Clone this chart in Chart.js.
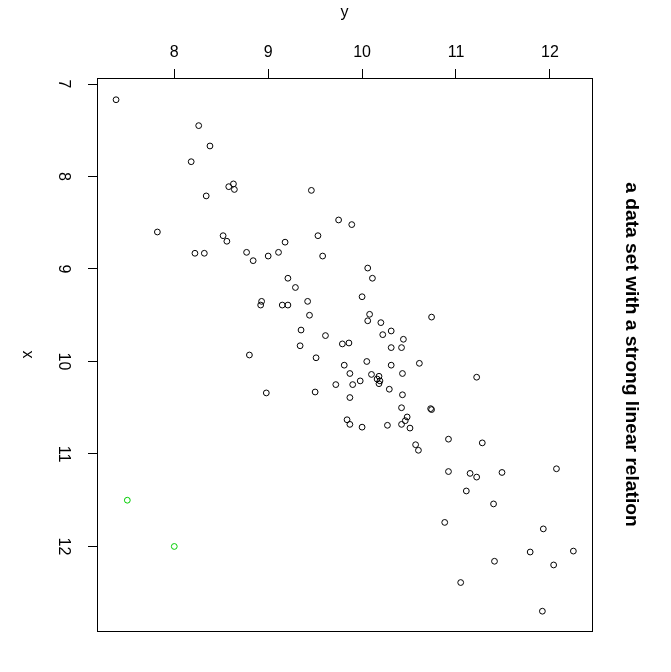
<!DOCTYPE html>
<html>
<head>
<meta charset="utf-8">
<script src="https://cdn.jsdelivr.net/npm/chart.js@4/dist/chart.umd.min.js"></script>
<style>
    html, body { margin: 0; padding: 0; background: #ffffff; }
    #wrap { width: 671px; height: 672px; }
</style>
</head>
<body>
<div id="wrap"><canvas id="scatterChart"></canvas></div>
<script>
// values of the variable "y" (drawn along the top axis)
const yValues = [
    7.38, 8.26, 8.38, 8.18, 8.58, 8.63, 8.64, 8.34, 9.46, 7.82,
    8.52, 8.56, 8.22, 8.32, 8.77, 8.84, 9.00, 9.11, 9.18, 9.21,
    9.53, 9.58, 9.75, 9.89, 10.06, 10.11, 9.29, 10.00, 8.93, 8.92,
    9.15, 9.21, 9.42, 9.44, 10.08, 10.06, 10.20, 10.74, 9.35, 10.22,
    10.31, 10.44, 9.61, 9.34, 9.79, 9.86, 10.31, 10.42, 8.80, 9.51,
    9.81, 10.05, 10.31, 10.61, 9.87, 10.10, 10.18, 10.43, 10.16, 10.19,
    10.18, 9.98, 9.90, 9.72, 10.29, 10.43, 8.98, 9.50, 9.87, 10.42,
    10.74, 10.73, 9.84, 9.87, 10.00, 10.27, 10.42, 10.48, 10.46, 10.51,
    10.57, 10.60, 10.92, 10.92, 11.28, 11.15, 11.22, 11.49, 12.07, 11.11,
    11.40, 10.88, 11.93, 11.79, 12.25, 11.41, 12.04, 11.05, 11.92, 11.22
];
// values of the variable "x" (drawn down the left axis)
const xValues = [
    7.17, 7.45, 7.67, 7.84, 8.11, 8.08, 8.14, 8.21, 8.15, 8.60,
    8.64, 8.70, 8.83, 8.83, 8.82, 8.91, 8.86, 8.82, 8.71, 9.10,
    8.64, 8.86, 8.47, 8.52, 8.99, 9.10, 9.20, 9.30, 9.35, 9.39,
    9.39, 9.39, 9.35, 9.50, 9.49, 9.56, 9.58, 9.52, 9.66, 9.71,
    9.67, 9.76, 9.72, 9.83, 9.81, 9.80, 9.85, 9.85, 9.93, 9.96,
    10.04, 10.00, 10.04, 10.02, 10.13, 10.14, 10.16, 10.13, 10.19, 10.21,
    10.24, 10.21, 10.25, 10.25, 10.30, 10.36, 10.34, 10.33, 10.39, 10.50,
    10.52, 10.51, 10.63, 10.68, 10.71, 10.69, 10.68, 10.60, 10.64, 10.72,
    10.90, 10.96, 10.84, 11.19, 10.88, 11.21, 11.25, 11.20, 11.16, 11.40,
    11.54, 11.74, 11.81, 12.06, 12.05, 12.16, 12.20, 12.39, 12.70, 10.17
];
// the two added points, drawn in green
const outlierY = [7.5, 8.0];
const outlierX = [11.5, 12.0];

const yTicks = [8, 9, 10, 11, 12];
const xTicks = [7, 8, 9, 10, 11, 12];

const FONT = "'Liberation Sans', Arial, sans-serif";

function toPoints(hor, ver) {
    return hor.map((v, i) => ({ x: v, y: ver[i] }));
}

// box round the plot region, like R's box()
const plotBox = {
    id: 'plotBox',
    afterDraw(chart) {
        const a = chart.chartArea;
        const ctx = chart.ctx;
        ctx.save();
        ctx.strokeStyle = '#000000';
        ctx.lineWidth = 1;
        ctx.strokeRect(Math.round(a.left) + 0.5, Math.round(a.top) + 0.5,
            Math.round(a.right - a.left), Math.round(a.bottom - a.top));
        ctx.restore();
    }
};

const ctx = document.getElementById('scatterChart');
new Chart(ctx, {
    type: 'scatter',
    data: {
        datasets: [{
            data: toPoints(yValues, xValues),
            pointStyle: 'circle',
            pointRadius: 2.9,
            pointBorderWidth: 1,
            pointBorderColor: '#000000',
            pointBackgroundColor: 'rgba(0,0,0,0)'
        }, {
            data: toPoints(outlierY, outlierX),
            pointStyle: 'circle',
            pointRadius: 2.9,
            pointBorderWidth: 1,
            pointBorderColor: '#00cd00',
            pointBackgroundColor: 'rgba(0,0,0,0)'
        }]
    },
    options: {
        responsive: true,
        maintainAspectRatio: false,
        animation: false,
        events: [],
        layout: { padding: { left: 0, top: 0, right: 0, bottom: 41 } },
        plugins: {
            legend: { display: false },
            tooltip: { enabled: false },
            title: {
                display: true,
                position: 'right',
                fullSize: false,
                text: 'a data set with a strong linear relation',
                color: '#000000',
                font: { family: FONT, size: 19.2, weight: 'bold', lineHeight: 1.2 },
                padding: { top: 28.5, bottom: 27.5 }
            }
        },
        scales: {
            x: {
                type: 'linear',
                position: 'top',
                min: 7.177,
                max: 12.448,
                afterBuildTicks: (scale) => { scale.ticks = yTicks.map(v => ({ value: v })); },
                afterFit: (scale) => { scale.height = 78; },
                grid: { drawOnChartArea: false, drawTicks: true, tickLength: 9, color: '#000000', lineWidth: 1 },
                border: { display: false },
                ticks: {
                    autoSkip: false,
                    maxRotation: 0,
                    padding: 6.7,
                    color: '#000000',
                    font: { family: FONT, size: 16 }
                },
                title: {
                    display: true,
                    text: 'y',
                    color: '#000000',
                    font: { family: FONT, size: 16 },
                    padding: { top: 3.2, bottom: 0 }
                }
            },
            y: {
                type: 'linear',
                position: 'left',
                reverse: true,
                min: 6.935,
                max: 12.914,
                afterBuildTicks: (scale) => { scale.ticks = xTicks.map(v => ({ value: v })); },
                afterFit: (scale) => { scale.width = 97; },
                grid: { drawOnChartArea: false, drawTicks: true, tickLength: 9, color: '#000000', lineWidth: 1 },
                border: { display: false },
                ticks: {
                    autoSkip: false,
                    minRotation: -90,
                    maxRotation: -90,
                    crossAlign: 'center',
                    padding: 15.3,
                    color: '#000000',
                    font: { family: FONT, size: 16 }
                },
                title: {
                    display: true,
                    text: 'x',
                    color: '#000000',
                    font: { family: FONT, size: 16 },
                    padding: { top: 17.7, bottom: 0 }
                }
            }
        }
    },
    plugins: [plotBox]
});
</script>
</body>
</html>
